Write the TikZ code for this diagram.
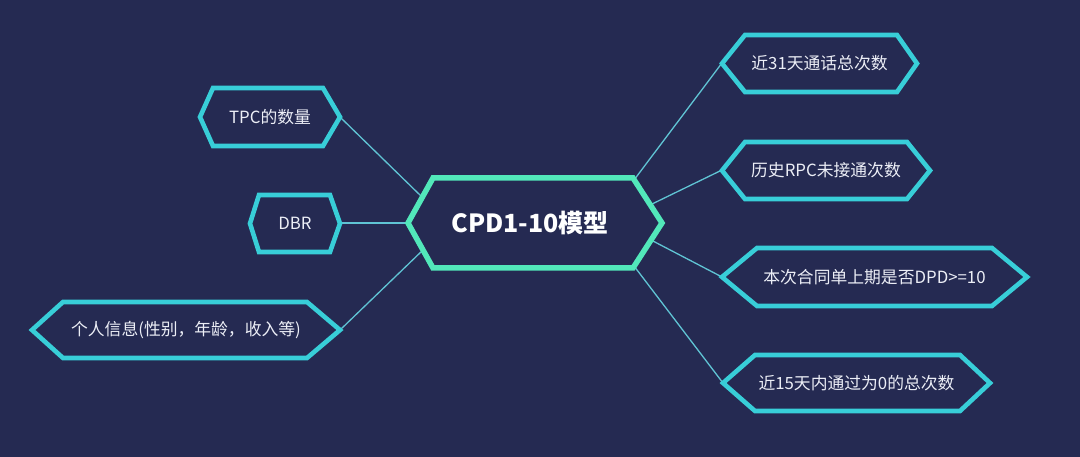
\documentclass[tikz,border=0pt]{standalone}
\usepackage{fontspec}
\setmainfont{Noto Sans CJK SC}
\definecolor{bgc}{RGB}{37,42,82}
\definecolor{boxc}{RGB}{56,206,216}
\definecolor{mainc}{RGB}{82,232,186}
\definecolor{linkc}{RGB}{96,196,212}
\definecolor{txtc}{RGB}{236,238,246}
\tikzset{
  hexline/.style={draw=boxc,line width=4.6pt,fill=bgc,line join=miter},
  mainline/.style={draw=mainc,line width=5.5pt,fill=bgc,line join=miter},
  lbl/.style={text=txtc,font=\fontsize{16.8}{18}\selectfont,inner sep=0pt},
  mainlbl/.style={text=white,font=\fontsize{25}{28}\selectfont\bfseries,inner sep=0pt},
  link/.style={draw=linkc,line width=1.3pt}
}
% #1 name, #2 left tip x, #3 left corner x, #4 right corner x, #5 right tip x, #6 top y, #7 bottom y, #8 text
\newcommand\hexbx[8]{%
  \path[hexline] (#2,{(#6+#7)/2}) -- (#3,#6) -- (#4,#6) -- (#5,{(#6+#7)/2}) -- (#4,#7) -- (#3,#7) -- cycle;
  \coordinate (#1-w) at (#2,{(#6+#7)/2});
  \coordinate (#1-e) at (#5,{(#6+#7)/2});
  \node[lbl] (#1) at ({(#2+#5)/2},{(#6+#7)/2}) {#8};
}
\begin{document}
\begin{tikzpicture}[x=1pt,y=-1pt]
\fill[bgc] (0,0) rectangle (1080,457);
\useasboundingbox (0,0) rectangle (1080,457);
% anchor points on the central hexagon
\coordinate (c-ul) at (422,197);
\coordinate (c-l) at (408,223);
\coordinate (c-ll) at (423,250);
\coordinate (c-ur) at (634,180);
\coordinate (c-r1) at (650,205);
\coordinate (c-r2) at (651,240);
\coordinate (c-lr) at (634,266);
% connectors
\coordinate (tpc-e) at (340,117);
\coordinate (dbr-e) at (340,223);
\coordinate (info-e) at (340,330);
\coordinate (r1-w) at (722,63);
\coordinate (r2-w) at (722,170);
\coordinate (r3-w) at (722,277);
\coordinate (r4-w) at (723,383);
\draw[link] (c-ul) -- (tpc-e);
\draw[link] (c-l) -- (dbr-e);
\draw[link] (c-ll) -- (info-e);
\draw[link] (c-ur) -- (r1-w);
\draw[link] (c-r1) -- (r2-w);
\draw[link] (c-r2) -- (r3-w);
\draw[link] (c-lr) -- (r4-w);
% central hexagon
\path[mainline] (408,223) -- (433,178) -- (633,178) -- (662,223) -- (633,268) -- (433,268) -- cycle;
\node[mainlbl] (center) at (530,223) {CPD1-10模型};
% left boxes
\hexbx{tpc}{200}{213}{323}{340}{88}{146}{TPC的数量}
\hexbx{dbr}{250}{259}{330}{340}{195}{252}{DBR}
\hexbx{info}{32}{63}{307}{340}{302}{358}{个人信息(性别，年龄，收入等)}
% right boxes
\hexbx{r1}{722}{745}{897}{917}{35}{92}{近31天通话总次数}
\hexbx{r2}{722}{745}{907}{930}{142}{199}{历史RPC未接通次数}
\hexbx{r3}{722}{757}{992}{1027}{248}{306}{本次合同单上期是否DPD>=10}
\hexbx{r4}{723}{755}{960}{990}{355}{411}{近15天内通过为0的总次数}
\end{tikzpicture}
\end{document}
